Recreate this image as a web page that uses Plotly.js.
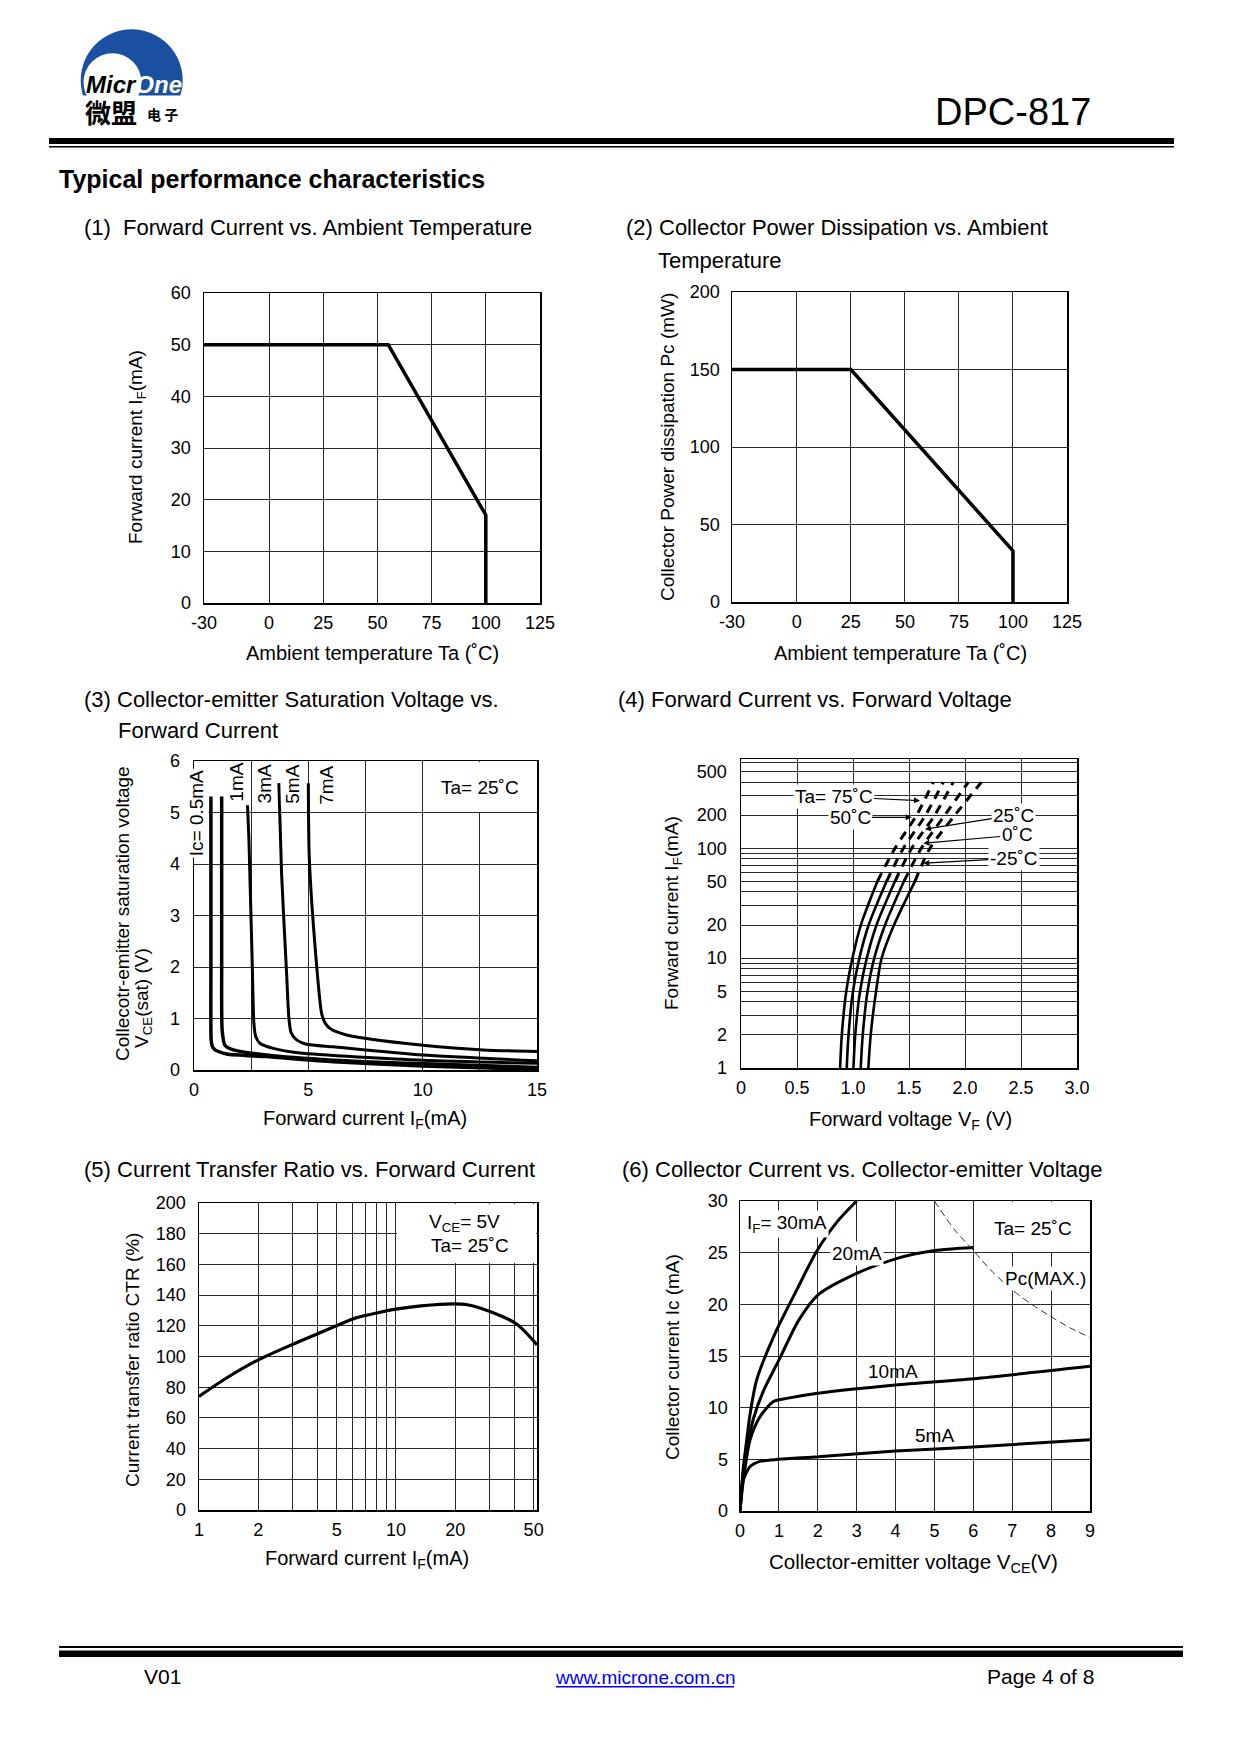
<!DOCTYPE html>
<html><head><meta charset="utf-8">
<script src="https://cdn.plot.ly/plotly-3.0.1.min.js"></script>
<style>html,body{margin:0;padding:0;background:#fff;}#chart{width:1240px;height:1754px;}</style>
</head><body><div id="chart"></div>
<script>
// ---------- DATA ----------
// (1) Forward current vs ambient temperature
const c1_ta = [-30, 55, 100, 100];
const c1_if = [50, 50, 17, 0];
const c1_xticks = [-30, 0, 25, 50, 75, 100, 125];
// (2) Collector power dissipation vs ambient temperature
const c2_ta = [-30, 25, 100, 100];
const c2_pc = [150, 150, 33, 0];
const c2_xticks = [-30, 0, 25, 50, 75, 100, 125];
// (3) Collector-emitter saturation voltage vs forward current
const c3_ic05_if = [0.74, 0.74, 0.75, 0.80, 0.92, 1.43, 3.17, 6.09, 10, 15];
const c3_ic05_v  = [5.31, 2.0, 0.58, 0.46, 0.39, 0.31, 0.26, 0.16, 0.08, 0.01];
const c3_ic1_if  = [1.21, 1.21, 1.23, 1.35, 1.72, 3.17, 6.09, 10, 15];
const c3_ic1_v   = [5.31, 2.0, 0.78, 0.48, 0.39, 0.29, 0.19, 0.12, 0.05];
const c3_ic3_if  = [2.34, 2.40, 2.55, 2.62, 2.70, 2.88, 3.47, 4.63, 10, 15];
const c3_ic3_v   = [5.14, 4.5, 2.0, 0.9, 0.65, 0.52, 0.42, 0.33, 0.19, 0.13];
const c3_ic5_if  = [3.71, 3.83, 4.05, 4.15, 4.25, 4.5, 4.92, 6.09, 10, 15];
const c3_ic5_v   = [5.57, 3.81, 1.87, 1.0, 0.72, 0.58, 0.5, 0.45, 0.29, 0.18];
const c3_ic7_if  = [5.0, 5.04, 5.33, 5.58, 5.75, 6.0, 6.67, 7.54, 10, 12.64, 15];
const c3_ic7_v   = [5.57, 4.14, 2.2, 1.1, 0.9, 0.79, 0.68, 0.61, 0.48, 0.39, 0.36];
const c3_xticks = [0, 5, 10, 15];
const c3_xgrid  = [2.5, 7.5, 12.5];
// (4) Forward current vs forward voltage (solid 1..50 mA, dashed 50..400 mA)
const c4_if_lo = [1, 2, 5, 10, 20, 50];
const c4_if_hi = [50, 100, 200, 400];
const c4_vf_75_lo  = [0.885, 0.90, 0.94, 0.995, 1.07, 1.218];
const c4_vf_50_lo  = [0.944, 0.96, 1.00, 1.057, 1.14, 1.30];
const c4_vf_25_lo  = [1.004, 1.02, 1.063, 1.123, 1.21, 1.375];
const c4_vf_0_lo   = [1.069, 1.087, 1.13, 1.19, 1.286, 1.455];
const c4_vf_m25_lo = [1.137, 1.158, 1.206, 1.256, 1.366, 1.553];
const c4_vf_75_hi  = [1.218, 1.375, 1.568, 1.717];
const c4_vf_50_hi  = [1.30, 1.45, 1.648, 1.806];
const c4_vf_25_hi  = [1.375, 1.524, 1.73, 1.895];
const c4_vf_0_hi   = [1.455, 1.61, 1.82, 2.03];
const c4_vf_m25_hi = [1.553, 1.687, 1.91, 2.147];
const c4_xticks = [0, 0.5, 1.0, 1.5, 2.0, 2.5, 3.0];
const c4_xtext  = ['0', '0.5', '1.0', '1.5', '2.0', '2.5', '3.0'];
const c4_yticks = [1, 2, 5, 10, 20, 50, 100, 200, 500];
const c4_ygrid  = [3, 4, 6, 7, 8, 9, 30, 40, 60, 70, 80, 90, 300, 400, 600];
// (5) CTR vs forward current
const c5_if  = [1, 1.38, 2, 3, 4, 5.2, 6.2, 8.2, 10, 13.4, 19.7, 23, 30, 40.8, 52];
const c5_ctr = [74, 86, 97.8, 108, 114.8, 121, 125, 128.7, 130.9, 133, 134.3, 133.7, 129.3, 121.3, 107.6];
const c5_xticks = [1, 2, 5, 10, 20, 50];
const c5_xgrid  = [3, 4, 6, 7, 8, 9, 30, 40];
// (6) Collector current vs collector-emitter voltage
const c6_v30 = [0, 0.08, 0.15, 0.26, 0.43, 0.94, 1.46, 1.95, 2.5, 3.0];
const c6_i30 = [0, 4.0, 6.2, 9.4, 12.7, 17.5, 21.4, 25.0, 28.0, 30.0];
const c6_v20 = [0, 0.08, 0.2, 0.35, 0.6, 1.0, 1.5, 2.0, 3.0, 4.0, 5.0, 6.0];
const c6_i20 = [0, 3.5, 6.5, 9.0, 11.6, 14.6, 18.4, 20.9, 23.0, 24.4, 25.2, 25.5];
const c6_v10 = [0, 0.086, 0.26, 0.51, 0.86, 1.2, 2, 4, 6, 9];
const c6_i10 = [0, 3, 6.9, 9.1, 10.6, 10.9, 11.4, 12.2, 12.8, 14.0];
const c6_v5  = [0, 0.086, 0.26, 0.51, 0.99, 2, 4, 6, 9];
const c6_i5  = [0, 3, 4.3, 4.8, 5.0, 5.25, 5.8, 6.2, 6.9];
const c6_vpc = [5, 5.5, 6, 6.5, 7, 7.5, 8, 8.5, 9];
const c6_ipc = [30, 27.3, 25.2, 23.1, 21.4, 20.0, 18.8, 17.7, 16.8];

// ---------- LAYOUT HELPERS ----------
const W = 1240, H = 1754;
const FONT = 'Liberation Sans, Arial, sans-serif';
const GRID = '#2a2a2a';
const dx = (a, b) => [a / W, b / W];
const dy = (top, bot) => [1 - bot / H, 1 - top / H];
function ax(extra) {
  return Object.assign({
    showline: true, mirror: true, linecolor: '#000', linewidth: 1.5,
    showgrid: true, gridcolor: GRID, gridwidth: 1, zeroline: false,
    ticks: '', tickfont: {size: 18, color: '#000', family: FONT}, fixedrange: true
  }, extra);
}
const minorGrid = (vals) => ({tickmode: 'array', tickvals: vals, ticks: '', showgrid: true, gridcolor: GRID, gridwidth: 1});
const blk = (w) => ({color: '#000', width: w});

// ---------- TRACES ----------
const traces = [];
function add(x, y, xa, ya, line, shape) {
  traces.push({type: 'scatter', mode: 'lines', x: x, y: y, xaxis: xa, yaxis: ya,
    line: Object.assign({shape: shape || 'linear'}, line), hoverinfo: 'skip', showlegend: false});
}
add(c1_ta, c1_if, 'x', 'y', blk(3.5));
add(c2_ta, c2_pc, 'x2', 'y2', blk(3.5));
add(c3_ic05_if, c3_ic05_v, 'x3', 'y3', Object.assign(blk(3.5), {smoothing: 0.6}), 'spline');
add(c3_ic1_if, c3_ic1_v, 'x3', 'y3', Object.assign(blk(3.5), {smoothing: 0.6}), 'spline');
add(c3_ic3_if, c3_ic3_v, 'x3', 'y3', Object.assign(blk(3), {smoothing: 0.6}), 'spline');
add(c3_ic5_if, c3_ic5_v, 'x3', 'y3', Object.assign(blk(3), {smoothing: 0.6}), 'spline');
add(c3_ic7_if, c3_ic7_v, 'x3', 'y3', Object.assign(blk(3), {smoothing: 0.6}), 'spline');
[[c4_vf_75_lo, c4_vf_75_hi], [c4_vf_50_lo, c4_vf_50_hi], [c4_vf_25_lo, c4_vf_25_hi],
 [c4_vf_0_lo, c4_vf_0_hi], [c4_vf_m25_lo, c4_vf_m25_hi]].forEach(p => {
  add(p[0], c4_if_lo, 'x4', 'y4', Object.assign(blk(2.6), {smoothing: 0.8}), 'spline');
  add(p[1], c4_if_hi, 'x4', 'y4', Object.assign(blk(3), {dash: '9px,7px', smoothing: 0.8}), 'spline');
});
add(c5_if, c5_ctr, 'x5', 'y5', Object.assign(blk(3.2), {smoothing: 0.8}), 'spline');
add(c6_v30, c6_i30, 'x6', 'y6', Object.assign(blk(3), {smoothing: 0.7}), 'spline');
add(c6_v20, c6_i20, 'x6', 'y6', Object.assign(blk(3), {smoothing: 0.7}), 'spline');
add(c6_v10, c6_i10, 'x6', 'y6', Object.assign(blk(3), {smoothing: 0.7}), 'spline');
add(c6_v5, c6_i5, 'x6', 'y6', Object.assign(blk(3), {smoothing: 0.7}), 'spline');
add(c6_vpc, c6_ipc, 'x6', 'y6', {color: '#333', width: 1, dash: '7px,4px', smoothing: 0.8}, 'spline');

// ---------- ANNOTATIONS ----------
const ann = [];
function txt(text, x, y, o) {
  ann.push(Object.assign({text: text, x: x / W, y: 1 - y / H, xref: 'paper', yref: 'paper',
    showarrow: false, xanchor: 'center', yanchor: 'middle',
    font: {size: 19, color: '#000', family: FONT}}, o || {}));
}
function dat(text, x, y, xa, ya, o) {
  ann.push(Object.assign({text: text, x: x, y: y, xref: xa, yref: ya, showarrow: false,
    xanchor: 'center', yanchor: 'middle', font: {size: 19, color: '#000', family: FONT}}, o || {}));
}
// white blank boxes inside plots (hide grid behind the condition notes)
function blank(x0, y0, x1, y1) {
  ann.push({text: ' ', x: (x0 + x1) / 2 / W, y: 1 - (y0 + y1) / 2 / H, xref: 'paper', yref: 'paper',
    showarrow: false, xanchor: 'center', yanchor: 'middle', width: x1 - x0, height: y1 - y0,
    borderpad: 0, borderwidth: 0, bgcolor: '#ffffff', font: {size: 10, color: '#fff'}});
}
blank(424.2, 762.2, 536, 811.8);
blank(397.2, 1204.2, 536, 1263.6);
blank(974.6, 1202.2, 1089, 1252);

// header
txt('DPC-817', 1093, 112, {xanchor: 'right', font: {size: 38, color: '#000', family: FONT}});
txt('<b>Typical performance characteristics</b>', 57, 179, {xanchor: 'left', font: {size: 25, color: '#000', family: FONT}});
txt('<b><i>Micr<span style="color:#ffffff">One</span></i></b>', 84, 85, {xanchor: 'left', font: {size: 24, color: '#000', family: FONT}});
txt('<b>微盟</b>', 110.5, 111.5, {font: {size: 26, color: '#000', family: 'Noto Sans CJK SC'}});
txt('<b>电 子</b>', 162, 114, {font: {size: 14, color: '#000', family: 'Noto Sans CJK SC'}});
// subtitles
const sub = {xanchor: 'left', font: {size: 22, color: '#000', family: FONT}};
txt('(1)  Forward Current vs. Ambient Temperature', 82, 227, sub);
txt('(2) Collector Power Dissipation vs. Ambient', 624, 227, sub);
txt('Temperature', 656, 260, sub);
txt('(3) Collector-emitter Saturation Voltage vs.', 82, 699, sub);
txt('Forward Current', 116, 731, sub);
txt('(4) Forward Current vs. Forward Voltage', 616, 699, sub);
txt('(5) Current Transfer Ratio vs. Forward Current', 82, 1169, sub);
txt('(6) Collector Current vs. Collector-emitter Voltage', 620, 1169, sub);
// axis titles
const rot = {textangle: -90};
const xt = {font: {size: 20, color: '#000', family: FONT}};
txt('Forward current I<sub>F</sub>(mA)', 137, 447, rot);
txt('Ambient temperature Ta (˚C)', 372, 653, xt);
txt('Collector Power dissipation Pc (mW)', 668, 447, rot);
txt('Ambient temperature Ta (˚C)', 900, 653, xt);
txt('Collecotr-emitter saturation voltage', 122, 914, rot);
txt('V<sub>CE</sub>(sat) (V)', 143, 998, rot);
txt('Forward current I<sub>F</sub>(mA)', 365, 1119, xt);
txt('Forward current I<sub>F</sub>(mA)', 673, 913, rot);
txt('Forward voltage V<sub>F</sub> (V)', 910, 1120, xt);
txt('Current transfer ratio CTR (%)', 132, 1360, rot);
txt('Forward current I<sub>F</sub>(mA)', 367, 1559, xt);
txt('Collector current Ic (mA)', 672, 1357, rot);
txt('Collector-emitter voltage V<sub>CE</sub>(V)', 913, 1563, {font: {size: 20.5, color: '#000', family: FONT}});
// footer
const ft = {font: {size: 21, color: '#000', family: FONT}};
txt('V01', 142, 1676, Object.assign({xanchor: 'left'}, ft));
txt('www.microne.com.cn', 645, 1677, {font: {size: 19, color: '#0000ff', family: FONT}});
txt('Page 4 of 8', 985, 1676, Object.assign({xanchor: 'left'}, ft));

// in-chart labels
const wb = {bgcolor: '#ffffff'};
dat('Ta= 25˚C', 12.5, 5.49, 'x3', 'y3');
dat('Ic= 0.5mA', 0.12, 4.98, 'x3', 'y3', Object.assign({textangle: -90}, wb));
dat('1mA', 1.86, 5.59, 'x3', 'y3', Object.assign({textangle: -90}, wb));
dat('3mA', 3.07, 5.55, 'x3', 'y3', Object.assign({textangle: -90}, wb));
dat('5mA', 4.31, 5.55, 'x3', 'y3', Object.assign({textangle: -90}, wb));
dat('7mA', 5.8, 5.53, 'x3', 'y3', Object.assign({textangle: -90}, wb));

function arr(text, tx, ty, px, py) {
  ann.push({text: text, x: px, y: Math.log10(py), ax: tx, ay: Math.log10(ty), xref: 'x4', yref: 'y4',
    axref: 'x4', ayref: 'y4', showarrow: true, arrowhead: 2, arrowsize: 1, arrowwidth: 1.2,
    arrowcolor: '#000', standoff: 0, bgcolor: '#ffffff',
    font: {size: 19, color: '#000', family: FONT}});
}
arr('Ta= 75˚C', 0.826, 295, 1.598, 271);
arr('50˚C', 0.974, 191, 1.524, 191);
arr('25˚C', 2.435, 200, 1.642, 149);
arr('0˚C', 2.465, 132, 1.628, 111);
arr('-25˚C', 2.435, 81, 1.628, 73);

dat('V<sub>CE</sub>= 5V', Math.log10(14.4), 187, 'x5', 'y5', {xanchor: 'left'});
dat('Ta= 25˚C', Math.log10(14.7), 172.5, 'x5', 'y5', {xanchor: 'left'});

dat('I<sub>F</sub>= 30mA', 1.2, 27.8, 'x6', 'y6', wb);
dat('20mA', 3.0, 24.9, 'x6', 'y6', wb);
dat('Ta= 25˚C', 7.54, 27.3, 'x6', 'y6');
dat('Pc(MAX.)', 7.86, 22.5, 'x6', 'y6', wb);
dat('10mA', 3.94, 13.5, 'x6', 'y6');
dat('5mA', 4.99, 7.3, 'x6', 'y6');

// ---------- SHAPES ----------
const P = (x) => x / W, Q = (y) => 1 - y / H;
const rect = (x0, y0, x1, y1, c) => ({type: 'rect', xref: 'paper', yref: 'paper', x0: P(x0), x1: P(x1), y0: Q(y1), y1: Q(y0), fillcolor: c, line: {width: 0}});
const shapes = [
  {type: 'circle', xref: 'paper', yref: 'paper', x0: P(80.7), x1: P(182.7), y0: Q(131.3), y1: Q(29.3), fillcolor: '#1b4f9f', line: {width: 0}},
  {type: 'circle', xref: 'paper', yref: 'paper', x0: P(83.5), x1: P(141.5), y0: Q(111.3), y1: Q(53.3), fillcolor: '#ffffff', line: {width: 0}},
  rect(70, 95.5, 195, 140, '#ffffff'),
  rect(49, 138, 1174, 144, '#000'),
  rect(49, 146, 1174, 147.5, '#000'),
  rect(59, 1646, 1183, 1648, '#000'),
  rect(59, 1650.5, 1183, 1657, '#000'),
  rect(556, 1686, 734, 1687.5, '#0000ff')
];

// ---------- AXES ----------
const layout = {
  width: W, height: H, margin: {l: 0, r: 0, t: 0, b: 0},
  paper_bgcolor: '#fff', plot_bgcolor: '#fff', showlegend: false,
  font: {family: FONT, color: '#000'},
  xaxis:  ax({domain: dx(204, 540), range: [-30, 125], tickvals: c1_xticks, ticktext: c1_xticks.map(String), anchor: 'y', ticklabelstandoff: 3}),
  yaxis:  ax({domain: dy(293, 603), range: [0, 60], dtick: 10, anchor: 'x', ticklabelstandoff: 8}),
  xaxis2: ax({domain: dx(732, 1067), range: [-30, 125], tickvals: c2_xticks, ticktext: c2_xticks.map(String), anchor: 'y2', ticklabelstandoff: 3}),
  yaxis2: ax({domain: dy(292, 602), range: [0, 200], dtick: 50, anchor: 'x2', ticklabelstandoff: 7}),
  xaxis3: ax({domain: dx(194, 537), range: [0, 15], tickvals: c3_xticks, minor: minorGrid(c3_xgrid), anchor: 'y3', ticklabelstandoff: 3}),
  yaxis3: ax({domain: dy(761, 1070), range: [0, 6], dtick: 1, anchor: 'x3', ticklabelstandoff: 9}),
  xaxis4: ax({domain: dx(741, 1077), range: [0, 3], tickvals: c4_xticks, ticktext: c4_xtext, anchor: 'y4', ticklabelstandoff: 3}),
  yaxis4: ax({domain: dy(759, 1068), type: 'log', range: [0, 2.812], tickvals: c4_yticks,
    ticktext: c4_yticks.map(String), minor: minorGrid(c4_ygrid), anchor: 'x4', ticklabelstandoff: 9}),
  xaxis5: ax({domain: dx(199, 537), type: 'log', range: [0, Math.log10(52)], tickvals: c5_xticks,
    ticktext: c5_xticks.map(String), minor: minorGrid(c5_xgrid), anchor: 'y5', ticklabelstandoff: 3}),
  yaxis5: ax({domain: dy(1203, 1510), range: [0, 200], dtick: 20, anchor: 'x5', ticklabelstandoff: 8}),
  xaxis6: ax({domain: dx(740, 1090), range: [0, 9], dtick: 1, anchor: 'y6', ticklabelstandoff: 3}),
  yaxis6: ax({domain: dy(1201, 1511), range: [0, 30], dtick: 5, anchor: 'x6', ticklabelstandoff: 7}),
  annotations: ann,
  shapes: shapes
};

Plotly.newPlot('chart', traces, layout, {staticPlot: true, displayModeBar: false});
</script>
</body></html>
